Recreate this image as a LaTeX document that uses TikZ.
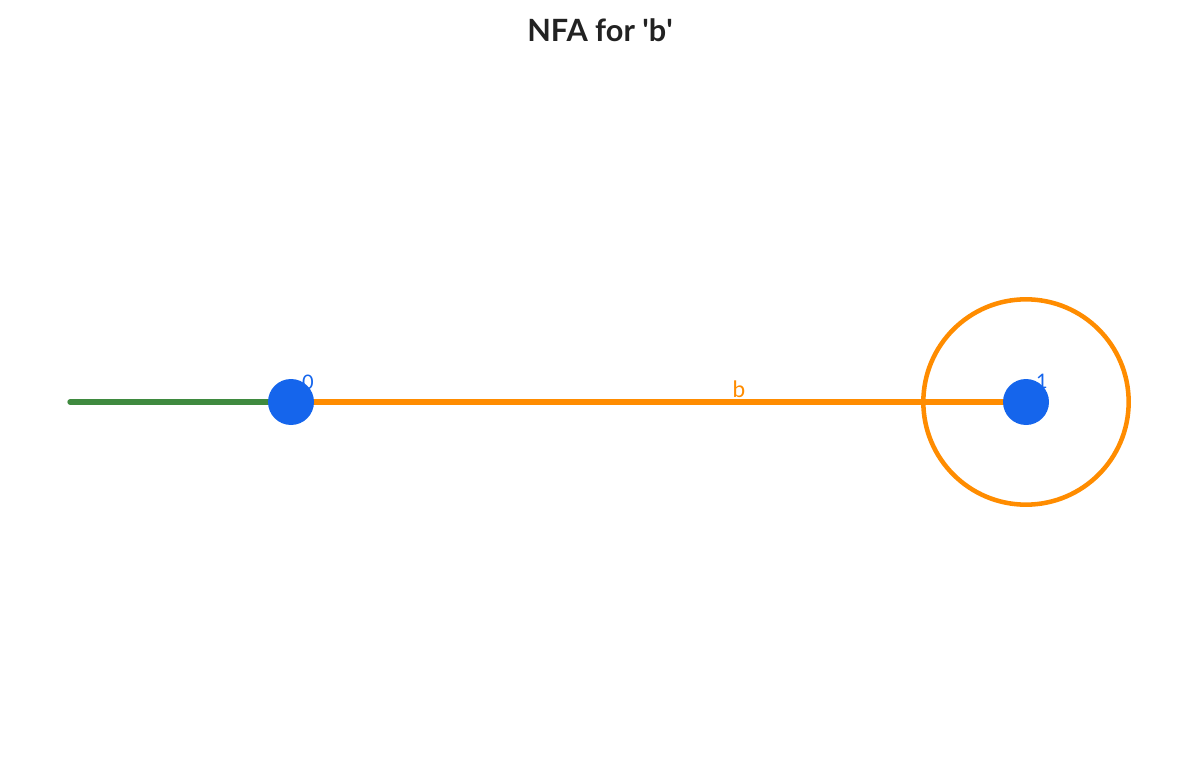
\documentclass[tikz,border=0pt]{standalone}
\usepackage{fontspec}
\setmainfont{Lato}
\usetikzlibrary{backgrounds}
\definecolor{nodeblue}{HTML}{1565EC}
\definecolor{edgeorange}{HTML}{FF8C00}
\definecolor{startgreen}{HTML}{3F8A3F}
\definecolor{titlegray}{HTML}{222222}
\begin{document}
\begin{tikzpicture}[x=0.75pt,y=-0.75pt,
  state/.style={circle,fill=nodeblue,inner sep=0pt,minimum size=34.5pt},
  statelabel/.style={text=nodeblue,font=\fontsize{15}{15}\selectfont,inner sep=0pt},
  edgelabel/.style={text=edgeorange,font=\fontsize{17}{17}\selectfont,inner sep=0pt},
  transition/.style={draw=edgeorange,line width=4pt},
  startline/.style={draw=startgreen,line width=4pt,line cap=round},
  acceptring/.style={draw=edgeorange,line width=3.4pt,circle,inner sep=0pt,minimum size=154pt}]
\useasboundingbox (0,0) rectangle (1200,763);
\node[font=\fontsize{23}{23}\selectfont\bfseries,text=titlegray] (title) at (600,30) {NFA for \textquotesingle b\textquotesingle};
\node[statelabel] (l0) at (308,382) {0};
\node[statelabel] (l1) at (1042,381) {1};
\node[edgelabel] (lb) at (739,389) {b};
\coordinate (start) at (70,402);
\node[state] (n0) at (291,402) {};
\node[state] (n1) at (1026,402) {};
\begin{scope}[on background layer]
  \draw[startline] (start) -- (n0.center);
  \draw[transition] (n0.center) -- (n1.center);
  \node[acceptring] (ring) at (n1.center) {};
\end{scope}
\end{tikzpicture}
\end{document}
